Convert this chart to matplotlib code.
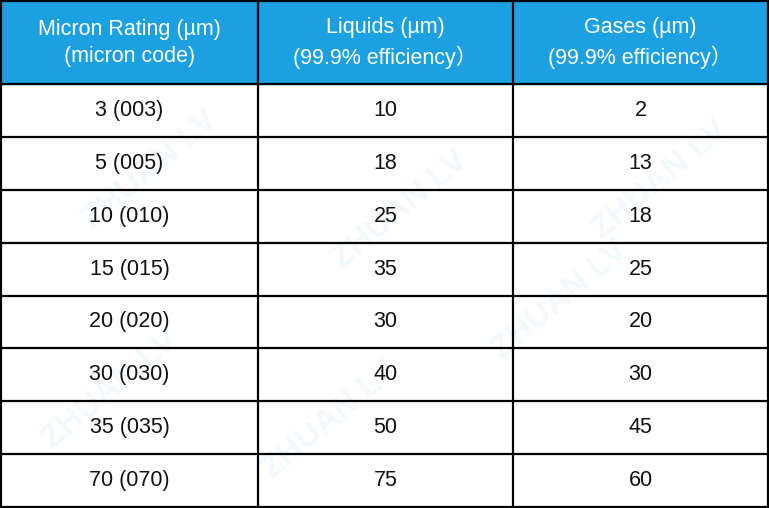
import matplotlib
matplotlib.use("Agg")
import matplotlib.pyplot as plt
from matplotlib.patches import Rectangle

headers = ["Micron Rating (µm)\n(micron code)", "Liquids (µm)\n(99.9% efficiency）", "Gases (µm)\n(99.9% efficiency）"]
ratings = ["3 (003)", "5 (005)", "10 (010)", "15 (015)", "20 (020)", "30 (030)", "35 (035)", "70 (070)"]
liquids = [10, 18, 25, 35, 30, 40, 50, 75]
gases = [2, 13, 18, 25, 20, 30, 45, 60]

plt.rcParams['font.family'] = ['Liberation Sans', 'Noto Sans CJK SC', 'DejaVu Sans']

W, H = 769, 508
fig = plt.figure(figsize=(W/100, H/100), dpi=100)
ax = fig.add_axes([0, 0, 1, 1])
ax.set_xlim(0, W); ax.set_ylim(H, 0); ax.axis('off')

cols = [1, 258, 513, 768]
hdr_h = 84
nrows = len(ratings)
row_h = (H - 1 - hdr_h) / nrows

ax.add_patch(Rectangle((0, 0), W, hdr_h, color='#1ba1e2', zorder=0))

# watermark
for (x, y) in [(150, 170), (400, 210), (560, 300), (330, 420), (660, 180), (110, 390)]:
    ax.text(x, y, "ZHUAN LV", rotation=40, fontsize=24, fontweight='bold',
            color='#1ba1e2', alpha=0.06, ha='center', va='center', zorder=1)

for j, h in enumerate(headers):
    cx = (cols[j] + cols[j+1]) / 2
    ax.text(cx, hdr_h/2 + 1, h, color='white', fontsize=15.5, ha='center', va='center',
            linespacing=1.4, zorder=3)

for i in range(nrows):
    cy = hdr_h + row_h*(i+0.5)
    vals = [ratings[i], str(liquids[i]), str(gases[i])]
    for j, v in enumerate(vals):
        cx = (cols[j] + cols[j+1]) / 2
        ax.text(cx, cy, v, color='#111111', fontsize=15.5, ha='center', va='center', zorder=3)

lw = 1.6
for x in cols:
    ax.plot([x, x], [0, H-1], color='black', lw=lw, zorder=4)
for i in range(nrows+1):
    y = hdr_h + row_h*i
    ax.plot([0, W], [y, y], color='black', lw=lw, zorder=4)
ax.plot([0, W], [1, 1], color='black', lw=lw, zorder=4)

fig.savefig("out.png", dpi=100)
